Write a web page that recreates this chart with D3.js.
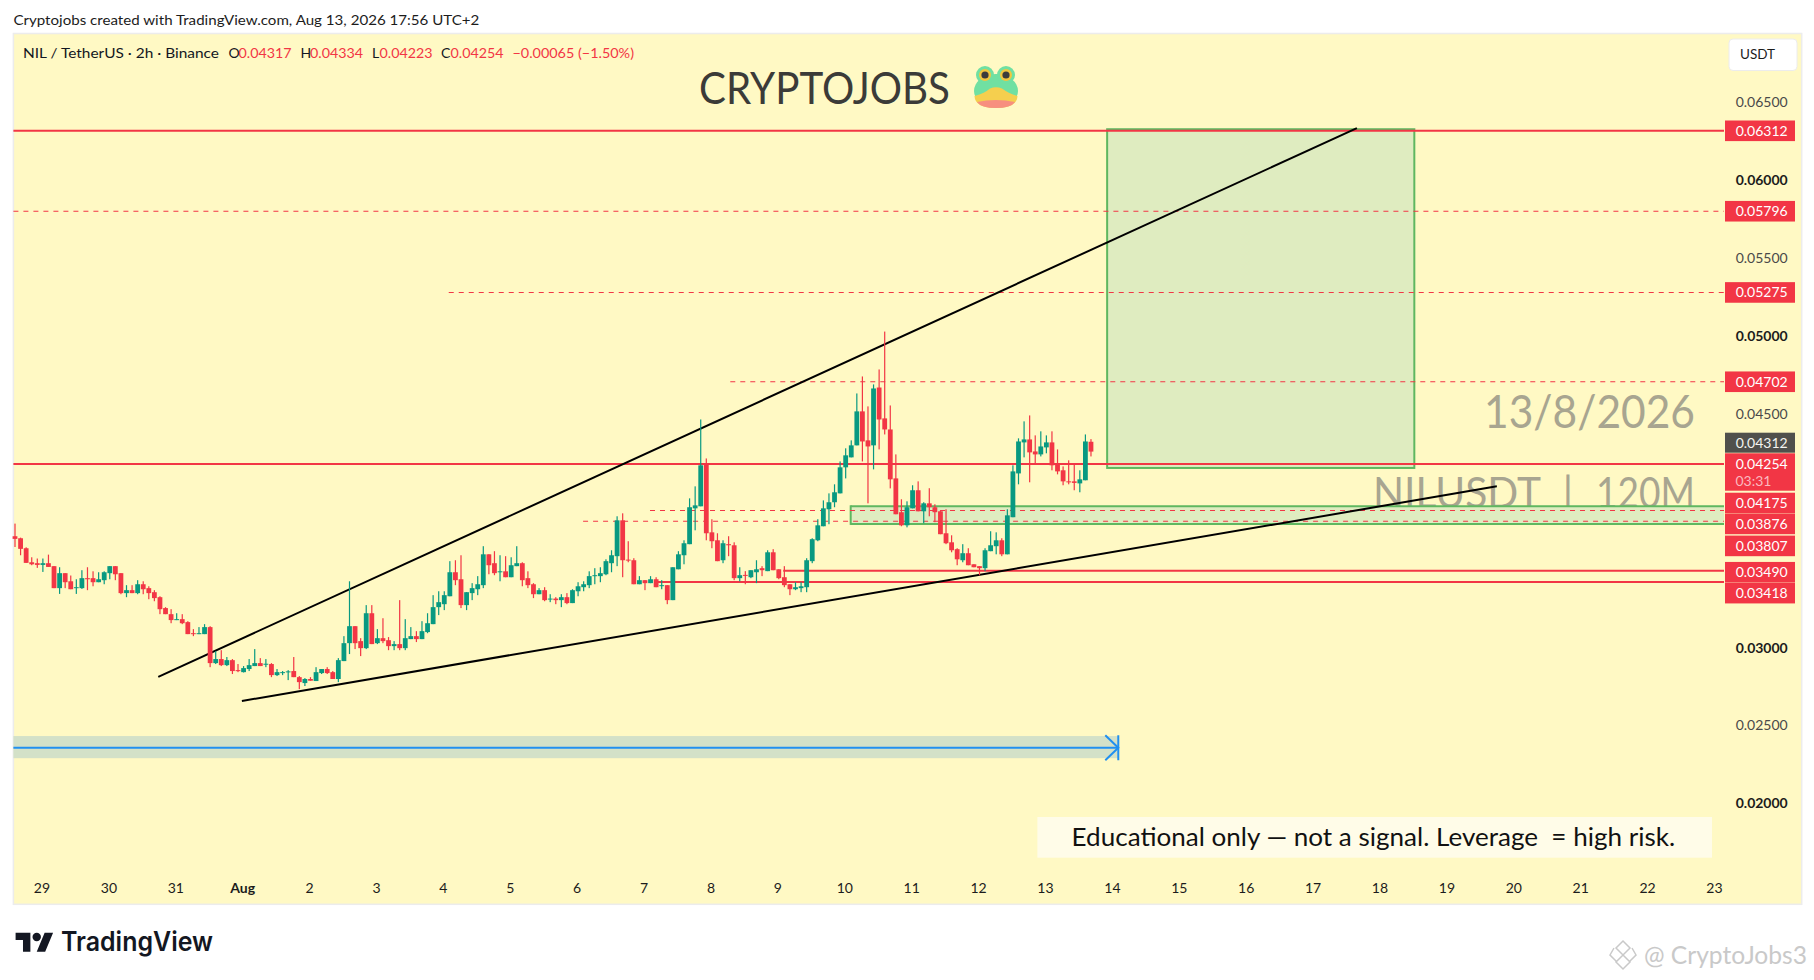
<!DOCTYPE html>
<html><head><meta charset="utf-8">
<script src="https://cdn.jsdelivr.net/npm/d3@7/dist/d3.min.js"></script>
<style>html,body{margin:0;padding:0;background:#fff}svg{display:block}text{font-family:Lato,"Open Sans",sans-serif}</style>
</head><body><svg id="c" width="1814" height="980"></svg>
<script>
// Prices in ticks of 0.00001 USDT, one entry per 2h candle
const TICK=0.00001;
const opens=[3711,3698,3634,3544,3538,3527,3538,3519,3378,3474,
3422,3380,3378,3442,3442,3416,3429,3474,3519,3474,
3346,3365,3346,3403,3378,3352,3320,3250,3211,3175,
3179,3160,3089,3085,3083,3128,2897,2923,2884,2916,
2852,2839,2859,2878,2897,2889,2891,2820,2835,2839,
2846,2807,2769,2795,2782,2833,2859,2839,2795,2910,
3025,3134,3038,2993,3217,3025,3057,3044,3006,3019,
2993,3051,3070,3051,3096,3147,3256,3275,3326,3480,
3435,3269,3346,3371,3397,3595,3538,3482,3486,3448,
3519,3538,3442,3403,3339,3365,3307,3311,3301,3320,
3282,3358,3384,3397,3457,3455,3467,3538,3583,3813,
3561,3557,3403,3429,3410,3435,3393,3397,3301,3499,
3589,3660,3890,3903,4172,3736,3685,3557,3660,3653,
3442,3463,3448,3480,3506,3487,3608,3499,3448,3403,
3371,3378,3384,3551,3685,3775,3884,3929,3986,4153,
4217,4294,4512,4326,4294,4665,4467,4396,4082,3865,
3781,3890,4006,3871,3922,3897,3871,3730,3672,3628,
3557,3602,3531,3519,3506,3615,3647,3685,3595,3833,
4114,4313,4332,4255,4236,4281,4313,4172,4134,4063,
4063,4050,4070,4317];
const closes=[3694,3630,3540,3531,3527,3538,3514,3378,3474,3416,
3371,3384,3442,3435,3416,3435,3480,3519,3467,3346,
3365,3346,3403,3371,3346,3314,3243,3211,3173,3179,
3153,3083,3085,3089,3128,2897,2923,2884,2916,2846,
2846,2865,2884,2897,2878,2893,2820,2839,2839,2844,
2807,2775,2795,2784,2839,2859,2833,2795,2916,3025,
3134,3025,2993,3217,3019,3057,3038,3006,3019,2993,
3057,3070,3051,3102,3153,3256,3288,3333,3480,3429,
3269,3352,3378,3403,3595,3525,3474,3486,3448,3525,
3538,3429,3397,3339,3365,3301,3311,3301,3320,3282,
3365,3390,3403,3455,3461,3474,3551,3589,3813,3557,
3557,3403,3429,3410,3435,3384,3397,3301,3512,3595,
3666,3897,3909,4166,3730,3679,3551,3666,3653,3442,
3461,3457,3493,3499,3493,3608,3493,3442,3397,3371,
3384,3390,3557,3692,3781,3890,3929,3993,4153,4230,
4294,4512,4319,4287,4659,4460,4396,4076,3852,3781,
3897,4006,3871,3922,3897,3865,3724,3666,3621,3563,
3602,3525,3512,3506,3621,3653,3685,3595,3845,4127,
4319,4332,4249,4236,4287,4313,4166,4127,4063,4057,
4053,4076,4319,4254];
const highs=[3792,3702,3640,3576,3568,3568,3593,3519,3512,3474,
3459,3435,3493,3512,3486,3480,3486,3519,3519,3474,
3397,3397,3429,3422,3390,3365,3326,3256,3243,3217,
3211,3166,3115,3128,3147,3134,2974,2980,2936,2923,
2891,2878,2923,2987,2929,2923,2897,2859,2846,2852,
2936,2814,2801,2807,2871,2859,2871,2846,2929,3070,
3422,3134,3057,3269,3269,3115,3185,3064,3038,3301,
3179,3128,3102,3166,3217,3333,3358,3358,3551,3557,
3589,3352,3410,3455,3647,3595,3615,3589,3583,3576,
3647,3544,3486,3410,3378,3384,3339,3320,3339,3346,
3371,3416,3422,3486,3506,3512,3563,3621,3839,3858,
3679,3570,3455,3429,3455,3448,3429,3397,3512,3615,
3685,3954,4031,4460,4210,3820,3730,3685,3711,3672,
3512,3487,3493,3557,3519,3621,3628,3499,3519,3403,
3416,3416,3570,3698,3820,3941,3986,4044,4191,4275,
4326,4627,4736,4544,4685,4781,5024,4550,4236,3948,
3935,4038,4063,3929,4019,3916,3877,3884,3717,3634,
3660,3634,3531,3519,3634,3743,3736,3698,3884,4166,
4339,4448,4486,4358,4384,4358,4384,4268,4159,4198,
4172,4134,4364,4334];
const lows=[3642,3589,3540,3525,3508,3482,3514,3378,3341,3378,
3371,3341,3373,3365,3390,3416,3403,3435,3429,3339,
3320,3346,3339,3339,3307,3294,3211,3211,3153,3173,
3147,3083,3070,3083,3083,2871,2891,2878,2878,2827,
2839,2837,2846,2878,2878,2871,2807,2814,2820,2788,
2807,2730,2750,2784,2782,2827,2827,2795,2775,2910,
2955,2987,2942,2987,3019,3019,3025,2980,2980,2980,
2980,3051,3032,3051,3089,3147,3205,3237,3326,3397,
3250,3237,3301,3333,3378,3467,3461,3422,3448,3448,
3519,3390,3378,3314,3339,3294,3288,3275,3256,3275,
3282,3326,3358,3378,3403,3416,3461,3480,3519,3448,
3544,3403,3403,3365,3410,3384,3371,3275,3301,3499,
3531,3660,3749,3903,3685,3634,3551,3538,3583,3429,
3422,3403,3442,3410,3455,3487,3493,3435,3384,3333,
3365,3352,3352,3538,3679,3775,3788,3897,3986,4082,
4217,4294,4191,3922,4140,4268,4364,4018,3852,3775,
3768,3890,3871,3794,3839,3801,3724,3660,3608,3525,
3544,3525,3512,3461,3487,3615,3595,3583,3595,3833,
4044,4217,4057,4179,4223,4243,4134,4108,4038,4044,
4006,3993,4070,4223];

const dayLabels=["29","30","31","Aug","2","3","4","5","6","7","8","9","10","11","12","13","14","15","16","17","18","19","20","21","22","23"];
const firstDayIndex=5.75, barsPerDay=12;
const priceTicks=[0.065,0.06,0.055,0.05,0.045,0.03,0.025,0.02];
const boldPriceTicks=[0.06,0.05,0.03,0.02];

// level, style, first bar index (null = from the left edge)
const levelPrices=[0.06312,0.05796,0.05275,0.04702,0.04175,0.03876,0.03807,0.0349,0.03418];
const levelStyles=["solid","dash","dash","dash","solid","dash","dash","solid","solid"];
const levelStarts=[null,null,78.8,129.3,null,114.9,102.9,138.8,116.3];

// price tags on the axis; the lower ones are pushed apart so that they do not overlap
const tagLabels=["0.06312","0.05796","0.05275","0.04702","0.04175","0.03876","0.03807","0.03490","0.03418"];
const tagCentres=[0.06312,0.05796,0.05275,0.04702,0.03924,0.03790,0.03649,0.03480,0.03346];

const trendUpper=[[26.7,0.02809],[241.7,0.06329]];
const trendLower=[[41.7,0.02654],[266.8,0.04031]];
const targetBox={i0:196.9,i1:252,top:0.06322,bottom:0.04149};
const zone={i0:150.9,top:0.03903,bottom:0.03790};
const band={i1:198.9,top:0.02429,bottom:0.02287,mid:0.02354};

const RED="#f23645",GREEN="#089981",BG="#fff9c4",BOX="#5fb760",BOXFILL="#dfecc0",WM="#a8a590";
const paneL=13.4,paneR=1724,areaR=1801.7,areaT=33.5,areaB=904.3;

const svg=d3.select("#c");
const x=d3.scaleLinear().domain([0,300]).range([9.425,1681.925]);
const y=d3.scaleLinear().domain([0.06312,0.03418]).range([130.8,581.9]);

function label(s,px,py,o={}){
  const t=svg.append("text").attr("x",px).attr("y",py).attr("dy",".35em").text(s)
    .attr("font-size",o.size||14).attr("fill",o.fill||"#131722")
    .attr("font-weight",o.weight||400).attr("text-anchor",o.anchor||"start");
  if(o.family)t.style("font-family",o.family);
  if(o.len)t.attr("textLength",o.len).attr("lengthAdjust","spacingAndGlyphs");
  return t;
}

// frame
svg.append("rect").attr("x",paneL).attr("y",areaT).attr("width",areaR-paneL).attr("height",areaB-areaT)
  .attr("fill",BG).attr("stroke","#ececec").attr("stroke-width",1.5);

// header
label("Cryptojobs created with TradingView.com, Aug 13, 2026 17:56 UTC+2",13.4,20,{size:14,len:466,fill:"#1c1c1c"});
label("NIL / TetherUS · 2h · Binance",23,53.5,{size:14,len:196});
[["O",228.6,"0.04317",238.5],["H",300.4,"0.04334",310],["L",372,"0.04223",379.5],["C",441,"0.04254",450.5]].forEach(d=>{
  label(d[0],d[1],53.5,{size:14});
  label(d[2],d[3],53.5,{size:14,fill:RED,len:53});
});
label("−0.00065 (−1.50%)",512.5,53.5,{size:14,fill:RED,len:121.5});

// title + frog
label("CRYPTOJOBS",699,88.5,{size:44,fill:"#3b3b38",len:251});
const frog=svg.append("g");
frog.append("ellipse").attr("cx",996).attr("cy",91).attr("rx",22).attr("ry",17).attr("fill","#70e0a2");
frog.append("circle").attr("cx",985).attr("cy",75).attr("r",9).attr("fill","#70e0a2");
frog.append("circle").attr("cx",1006).attr("cy",75).attr("r",9).attr("fill","#70e0a2");
frog.append("circle").attr("cx",985).attr("cy",75).attr("r",6).attr("fill","#f2c63f");
frog.append("circle").attr("cx",1006).attr("cy",75).attr("r",6).attr("fill","#f2c63f");
frog.append("circle").attr("cx",985).attr("cy",75).attr("r",3.6).attr("fill","#3c3c3c");
frog.append("circle").attr("cx",1006).attr("cy",75).attr("r",3.6).attr("fill","#3c3c3c");
frog.append("path").attr("d","M974.5 96 Q985 93 990 88.5 Q996 86 1002 88.5 Q1008 93 1017.5 96 Q1017 108 996 108 Q975 108 974.5 96Z").attr("fill","#f5cf4e");
frog.append("path").attr("d","M977 102 Q996 98 1015 102 Q1011 108 996 108 Q981 108 977 102Z").attr("fill","#f78f7f");

// watermark texts
label("13/8/2026",1484,412,{size:46,fill:WM,len:211});
label("NILUSDT",1373,492.5,{size:43,fill:WM,len:168});
label("|",1568,492.5,{size:43,fill:WM,anchor:"middle"});
label("120M",1596,492.5,{size:43,fill:WM,len:99});

// target box
svg.append("rect").attr("x",x(targetBox.i0)).attr("y",y(targetBox.top))
  .attr("width",x(targetBox.i1)-x(targetBox.i0)).attr("height",y(targetBox.bottom)-y(targetBox.top))
  .attr("fill",BOXFILL).attr("stroke",BOX).attr("stroke-width",2);
// zone
svg.append("rect").attr("x",x(zone.i0)).attr("y",y(zone.top))
  .attr("width",paneR-x(zone.i0)).attr("height",y(zone.bottom)-y(zone.top)).attr("fill",BOXFILL);
[zone.top,zone.bottom].forEach(p=>svg.append("line").attr("x1",x(zone.i0)).attr("x2",paneR)
  .attr("y1",y(p)).attr("y2",y(p)).attr("stroke",BOX).attr("stroke-width",2));
svg.append("line").attr("x1",x(zone.i0)).attr("x2",x(zone.i0)).attr("y1",y(zone.top)-1).attr("y2",y(zone.bottom)+1)
  .attr("stroke",BOX).attr("stroke-width",2);

// band + arrow
svg.append("rect").attr("x",paneL).attr("y",y(band.top)).attr("width",x(band.i1)-paneL)
  .attr("height",y(band.bottom)-y(band.top)).attr("fill","#d3e1c8");
const BLUE="#2090f0",tipX=x(band.i1),midY=y(band.mid);
svg.append("line").attr("x1",paneL).attr("x2",tipX).attr("y1",midY).attr("y2",midY).attr("stroke",BLUE).attr("stroke-width",2);
svg.append("path").attr("d",d3.line()([[tipX-13,midY-12.5],[tipX,midY],[tipX-13,midY+12.5]])).attr("fill","none").attr("stroke",BLUE).attr("stroke-width",2);
svg.append("line").attr("x1",tipX).attr("x2",tipX).attr("y1",midY-12.5).attr("y2",midY+12.5).attr("stroke",BLUE).attr("stroke-width",2);

// levels
svg.append("g").selectAll("line").data(levelPrices).join("line")
  .attr("x1",(d,i)=>levelStarts[i]===null?paneL:x(levelStarts[i])).attr("x2",paneR)
  .attr("y1",d=>y(d)).attr("y2",d=>y(d)).attr("stroke",RED)
  .attr("stroke-width",(d,i)=>levelStyles[i]==="solid"?2:1.1)
  .attr("stroke-dasharray",(d,i)=>levelStyles[i]==="solid"?null:"5 5");

// trend lines
[trendUpper,trendLower].forEach(t=>svg.append("line")
  .attr("x1",x(t[0][0])).attr("y1",y(t[0][1])).attr("x2",x(t[1][0])).attr("y2",y(t[1][1]))
  .attr("stroke","#000").attr("stroke-width",2));

// candles
const bars=d3.range(opens.length);
const up=i=>closes[i]>=opens[i];
svg.append("g").selectAll("rect").data(bars).join("rect")
  .attr("x",i=>x(i+1)-0.6).attr("width",1.2)
  .attr("y",i=>y(highs[i]*TICK)).attr("height",i=>y(lows[i]*TICK)-y(highs[i]*TICK))
  .attr("fill",i=>up(i)?GREEN:RED);
svg.append("g").selectAll("rect").data(bars).join("rect")
  .attr("x",i=>x(i+1)-2.4).attr("width",4.8)
  .attr("y",i=>y(Math.max(opens[i],closes[i])*TICK))
  .attr("height",i=>Math.max(1,Math.abs(y(opens[i]*TICK)-y(closes[i]*TICK))))
  .attr("fill",i=>up(i)?GREEN:RED);

// axes
const yAxis=d3.axisRight(y).tickValues(priceTicks).tickSize(0).tickPadding(0).tickFormat(d3.format(".5f"));
const gy=svg.append("g").attr("transform","translate(1761.7,0.5)").call(yAxis);
gy.select(".domain").remove();
gy.selectAll("text").attr("x",0).attr("text-anchor","middle").style("font-family","Lato,sans-serif")
  .attr("font-size",14).attr("fill",d=>boldPriceTicks.includes(d)?"#1c1c1c":"#4a4a4a")
  .attr("font-weight",d=>boldPriceTicks.includes(d)?700:400);

const xAxis=d3.axisBottom(x).tickValues(dayLabels.map((d,i)=>firstDayIndex+i*barsPerDay))
  .tickSize(0).tickPadding(0).tickFormat((d,i)=>dayLabels[i]);
const gx=svg.append("g").attr("transform","translate(0,883.2)").call(xAxis);
gx.select(".domain").remove();
gx.selectAll("text").style("font-family","Lato,sans-serif").attr("font-size",14)
  .attr("fill","#1c1c1c").attr("font-weight",(d,i)=>dayLabels[i]==="Aug"?700:400);

// USDT button
svg.append("rect").attr("x",1729).attr("y",39).attr("width",68).attr("height",31.5).attr("rx",4)
  .attr("fill","#fff").attr("stroke","#ececec");
label("USDT",1740,54.5,{size:13.5,fill:"#1c1c1c"});

// tags
const tags=svg.append("g");
tags.selectAll("rect").data(tagLabels).join("rect").attr("x",1725).attr("width",70)
  .attr("y",(d,i)=>y(tagCentres[i])-10.3).attr("height",20.6).attr("fill",RED);
tagLabels.forEach((s,i)=>label(s,1761.7,y(tagCentres[i]),{fill:"#fff",anchor:"middle",size:14}));
svg.append("rect").attr("x",1725).attr("y",432.7).attr("width",70).attr("height",20).attr("fill","#50504c");
label("0.04312",1761.7,442.7,{fill:"#f4f4f0",anchor:"middle",size:14});
svg.append("rect").attr("x",1725).attr("y",453.3).attr("width",70).attr("height",37.4).attr("fill",RED);
label("0.04254",1761.7,463.7,{fill:"#fff",anchor:"middle",size:14});
label("03:31",1735.5,481.3,{fill:"#fbb9bf",size:14});

// disclaimer
svg.append("rect").attr("x",1037.4).attr("y",817).attr("width",674.6).attr("height",40.7).attr("fill","#fffce8");
label("Educational only — not a signal. Leverage  = high risk.",1071.6,837.5,{size:25,fill:"#111",len:603.5}).style("white-space","pre");

// TradingView logo
const logo=svg.append("g").attr("transform","translate(15.6,928.5) scale(1.056)").attr("fill","#131722");
logo.append("path").attr("d","M14 22H7V11H0V4h14v18zM28 22h-8l7.5-18h8L28 22z");
logo.append("circle").attr("cx",20).attr("cy",8).attr("r",4);
label("TradingView",61,942,{size:26.5,fill:"#131722",weight:600,len:152,family:"Inter,sans-serif"});

// footer credit
const ic=svg.append("g").attr("fill","none").attr("stroke","#c9c9c9").attr("stroke-width",1.5);
ic.append("path").attr("d","M1623 941l7 7-7 7-7-7zM1623 955l7 7-7 7-7-7zM1614 948l-4 7 7 7M1632 948l4 7-7 7");
label("@ CryptoJobs3",1644,955,{size:25,fill:"#c9c9c9",len:163});
</script></body></html>
